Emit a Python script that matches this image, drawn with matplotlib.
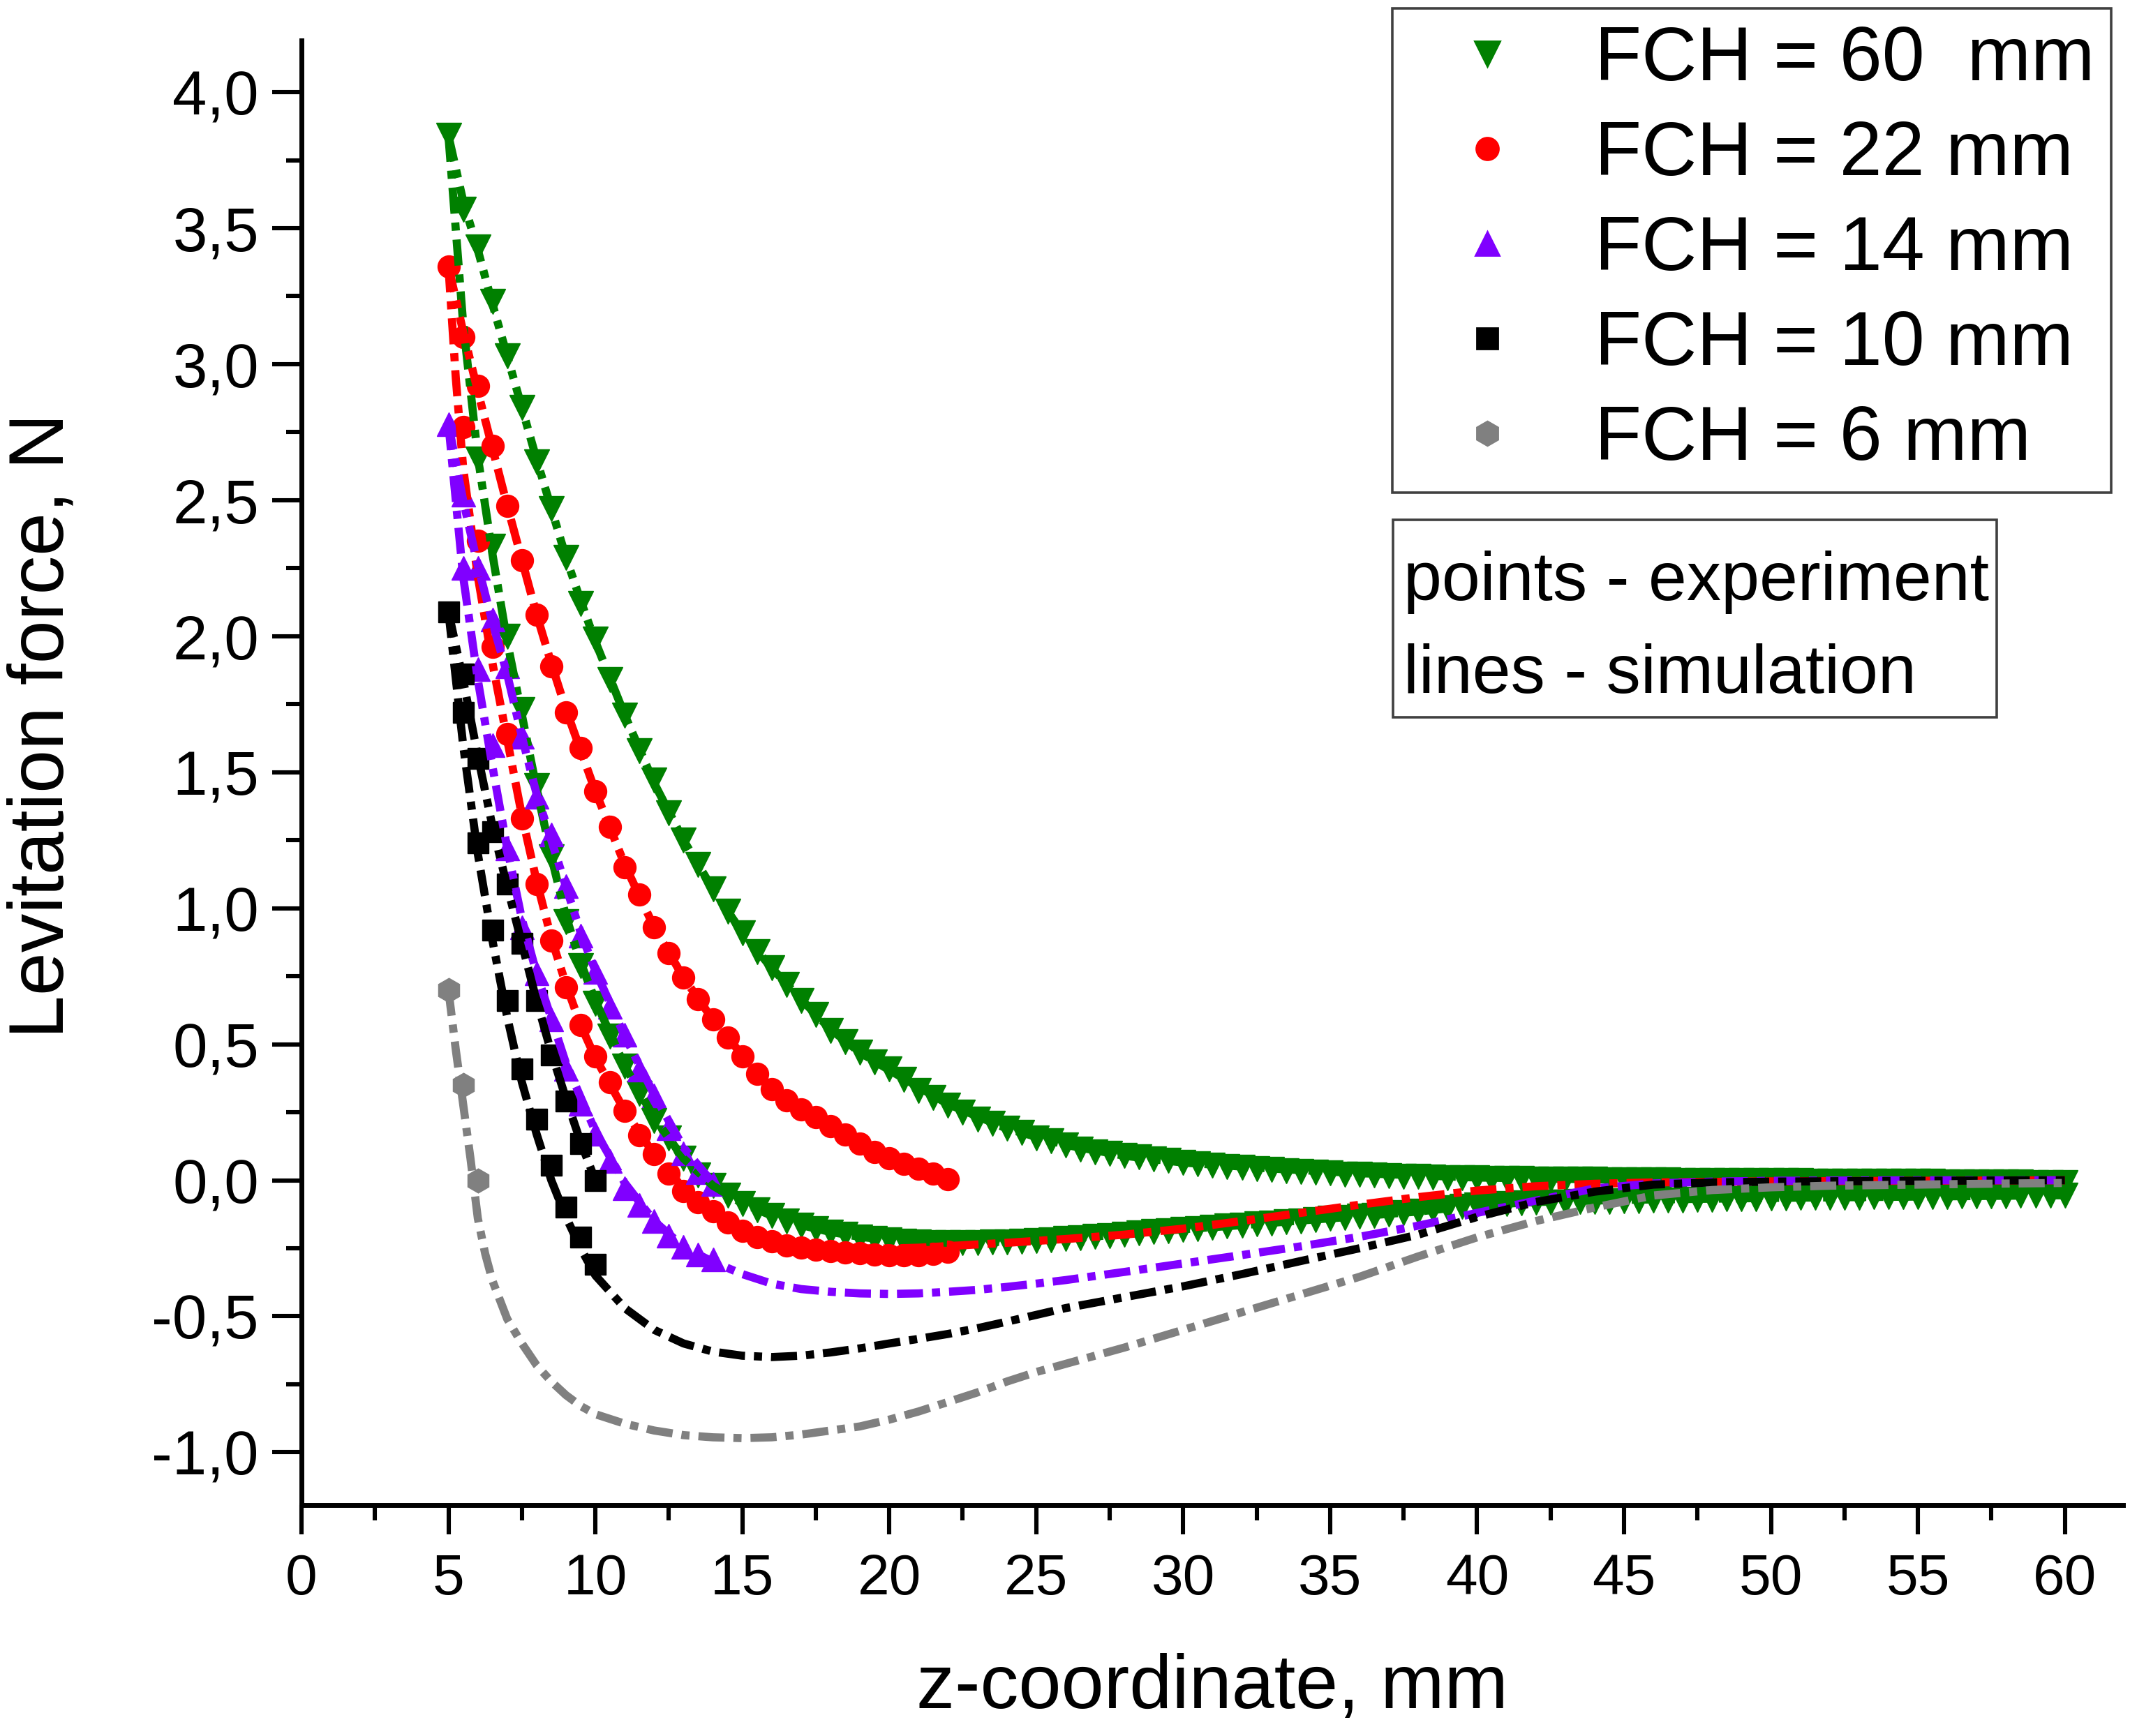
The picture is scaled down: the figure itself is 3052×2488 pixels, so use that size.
import numpy as np
import matplotlib
matplotlib.use("Agg")
import matplotlib.pyplot as plt
from matplotlib.lines import Line2D
from matplotlib.patches import Rectangle
from matplotlib.ticker import MultipleLocator, FixedLocator, FixedFormatter

plt.rcParams['font.family'] = ['Liberation Sans', 'DejaVu Sans']

# ---------------- data ----------------
# experimental points: z grid with 0.5 mm step
green_up_z = np.arange(5.0, 60.01, 0.5)
green_up_f = [3.84, 3.57, 3.43, 3.23, 3.03, 2.84, 2.64, 2.47, 2.29, 2.12,
              1.99, 1.84, 1.71, 1.58, 1.47, 1.35, 1.25, 1.16, 1.07, 0.99,
              0.91, 0.84, 0.78, 0.72, 0.66, 0.61, 0.55, 0.51, 0.47, 0.435,
              0.41, 0.37, 0.33, 0.305, 0.275, 0.25, 0.225, 0.21, 0.19, 0.175,
              0.155, 0.145, 0.13, 0.115, 0.105, 0.098, 0.09, 0.085, 0.078, 0.072,
              0.066, 0.061, 0.056, 0.051, 0.047, 0.043, 0.039, 0.035, 0.032, 0.029,
              0.026, 0.023, 0.021, 0.019, 0.017, 0.015, 0.013, 0.012, 0.010, 0.009,
              0.008, 0.007, 0.006, 0.006, 0.005, 0.004, 0.004, 0.003, 0.003, 0.002,
              0.002, 0.001, 0.001, 0.001, 0.000, 0.000, 0.000, -0.001, -0.001, -0.001,
              -0.002, -0.002, -0.002, -0.003, -0.003, -0.003, -0.004, -0.004, -0.004, -0.005,
              -0.005, -0.005, -0.006, -0.006, -0.006, -0.007, -0.007, -0.007, -0.008, -0.008,
              -0.008]
green_dn_z = np.arange(6.0, 60.01, 0.5)
green_dn_f = [2.65, 2.33, 2.0, 1.73, 1.45, 1.19, 0.95, 0.79, 0.65, 0.53,
              0.42, 0.32, 0.22, 0.155, 0.08, 0.02, -0.02, -0.056, -0.085, -0.11,
              -0.13, -0.15, -0.165, -0.178, -0.19, -0.2, -0.208, -0.214, -0.22, -0.224,
              -0.227, -0.229, -0.23, -0.23, -0.229, -0.228, -0.226, -0.224, -0.222, -0.219,
              -0.215, -0.211, -0.207, -0.203, -0.198, -0.193, -0.189, -0.185, -0.181, -0.177,
              -0.173, -0.169, -0.165, -0.161, -0.157, -0.153, -0.149, -0.145, -0.141, -0.137,
              -0.133, -0.129, -0.124, -0.119, -0.113, -0.107, -0.101, -0.096, -0.091, -0.088,
              -0.086, -0.084, -0.082, -0.081, -0.08, -0.079, -0.078, -0.077, -0.076, -0.075,
              -0.074, -0.073, -0.072, -0.071, -0.07, -0.069, -0.068, -0.067, -0.066, -0.065,
              -0.064, -0.063, -0.063, -0.062, -0.062, -0.061, -0.061, -0.060, -0.060, -0.059,
              -0.059, -0.058, -0.058, -0.057, -0.057, -0.056, -0.056, -0.055, -0.055]

red_up_z = np.arange(5.0, 22.01, 0.5)
red_up_f = [3.36, 3.10, 2.92, 2.70, 2.48, 2.28, 2.08, 1.89, 1.72, 1.59,
            1.43, 1.30, 1.15, 1.05, 0.93, 0.835, 0.745, 0.665, 0.59, 0.525,
            0.455, 0.39, 0.335, 0.295, 0.26, 0.232, 0.198, 0.168, 0.135, 0.105,
            0.08, 0.06, 0.042, 0.025, 0.005]
red_dn_z = np.arange(5.5, 22.01, 0.5)
red_dn_f = [2.77, 2.35, 1.96, 1.64, 1.33, 1.09, 0.88, 0.71, 0.57, 0.455,
            0.36, 0.255, 0.165, 0.095, 0.025, -0.04, -0.08, -0.115, -0.155, -0.185,
            -0.208, -0.225, -0.24, -0.248, -0.255, -0.26, -0.265, -0.268, -0.272, -0.275,
            -0.277, -0.275, -0.27, -0.262]

violet_up_z = np.arange(5.0, 14.01, 0.5)
violet_up_f = [2.78, 2.52, 2.25, 2.06, 1.89, 1.63, 1.41, 1.27, 1.08, 0.90,
               0.765, 0.637, 0.534, 0.406, 0.312, 0.192, 0.098, 0.029, -0.013]
violet_dn_z = np.arange(5.5, 14.01, 0.5)
violet_dn_f = [2.25, 1.88, 1.6, 1.22, 0.93, 0.76, 0.59, 0.41, 0.28, 0.17,
               0.07, -0.03, -0.09, -0.15, -0.205, -0.245, -0.272, -0.29]

black_up_z = np.arange(5.0, 10.01, 0.5)
black_up_f = [2.09, 1.86, 1.55, 1.28, 1.09, 0.87, 0.66, 0.46, 0.29, 0.135, 0.0]
black_dn_z = np.arange(5.5, 10.01, 0.5)
black_dn_f = [1.72, 1.24, 0.92, 0.66, 0.41, 0.225, 0.055, -0.10, -0.21, -0.31]

gray_z = [5.0, 5.5, 6.0]
gray_f = [0.70, 0.35, 0.0]

# simulation curves
sim_green_up_z = [5, 5.5, 6, 6.5, 7, 7.5, 8, 8.5, 9, 9.5, 10, 11, 12, 13, 14, 15, 16, 17, 18,
                  19, 20, 22, 24, 26, 28, 30, 33, 36, 40, 45, 50, 55, 60]
sim_green_up_f = [3.84, 3.60, 3.42, 3.22, 3.03, 2.84, 2.65, 2.47, 2.29, 2.13, 1.98, 1.71, 1.46,
                  1.25, 1.07, 0.91, 0.78, 0.665, 0.555, 0.47, 0.405, 0.28, 0.19, 0.13, 0.09,
                  0.065, 0.043, 0.026, 0.01, 0.002, -0.002, -0.005, -0.008]
sim_green_dn_z = [5, 5.5, 6, 6.5, 7, 7.5, 8, 8.5, 9, 9.5, 10, 11, 12, 13, 14, 15, 16, 17, 18,
                  19, 20, 22, 24, 26, 28, 30, 32, 34, 36, 38, 40, 42, 45, 50, 55, 60]
sim_green_dn_f = [3.84, 3.15, 2.66, 2.3, 1.98, 1.71, 1.44, 1.19, 0.97, 0.8, 0.66, 0.42, 0.23,
                  0.08, -0.02, -0.085, -0.13, -0.165, -0.19, -0.208, -0.22, -0.23, -0.226,
                  -0.215, -0.198, -0.18, -0.165, -0.148, -0.132, -0.115, -0.092, -0.08,
                  -0.072, -0.065, -0.06, -0.055]
sim_red_up_z = [5, 5.5, 6, 6.5, 7, 7.5, 8, 8.5, 9, 9.5, 10, 11, 12, 13, 14, 15, 16, 17, 18,
                19, 20, 21, 22]
sim_red_up_f = [3.36, 3.12, 2.9, 2.69, 2.48, 2.28, 2.08, 1.9, 1.73, 1.58, 1.43, 1.16, 0.93,
                0.745, 0.59, 0.46, 0.345, 0.262, 0.198, 0.135, 0.082, 0.042, 0.005]
sim_red_dn_z = [5, 5.25, 5.5, 6, 6.5, 7, 7.5, 8, 8.5, 9, 9.5, 10, 11, 12, 13, 14, 15, 16, 17,
                18, 19, 20, 21, 22, 24, 26, 28, 30, 32, 34, 36, 38, 40, 42, 44, 46, 50, 55, 60]
sim_red_dn_f = [3.36, 2.95, 2.62, 2.22, 1.9, 1.62, 1.34, 1.1, 0.89, 0.72, 0.57, 0.45, 0.255,
                0.095, -0.03, -0.115, -0.175, -0.212, -0.233, -0.245, -0.25, -0.251, -0.248,
                -0.242, -0.23, -0.216, -0.2, -0.178, -0.15, -0.12, -0.09, -0.062, -0.038,
                -0.022, -0.013, -0.008, -0.004, -0.002, 0.0]
sim_violet_up_z = [5, 5.5, 6, 6.5, 7, 7.5, 8, 8.5, 9, 9.5, 10, 11, 12, 13, 14]
sim_violet_up_f = [2.78, 2.5, 2.26, 2.05, 1.86, 1.63, 1.42, 1.25, 1.08, 0.91, 0.77, 0.53,
                   0.315, 0.12, -0.01]
sim_violet_dn_z = [5, 5.5, 6, 6.5, 7, 7.5, 8, 9, 10, 11, 12, 13, 14, 15, 16, 17, 18, 19, 20,
                   21, 22, 23, 24, 25, 26, 28, 30, 32, 34, 36, 38, 40, 42, 44, 46, 48, 50,
                   55, 60]
sim_violet_dn_f = [2.78, 2.22, 1.84, 1.52, 1.22, 0.96, 0.76, 0.43, 0.18, -0.01, -0.15, -0.245,
                   -0.3, -0.345, -0.38, -0.4, -0.41, -0.416, -0.418, -0.416, -0.41, -0.403,
                   -0.392, -0.38, -0.367, -0.337, -0.306, -0.275, -0.243, -0.208, -0.167,
                   -0.12, -0.075, -0.03, -0.012, -0.005, -0.002, 0.0, 0.0]
sim_black_up_z = [5, 5.5, 6, 6.5, 7, 7.5, 8, 8.5, 9, 9.5, 10]
sim_black_up_f = [2.09, 1.84, 1.56, 1.3, 1.08, 0.87, 0.66, 0.47, 0.3, 0.14, 0.0]
sim_black_dn_z = [5, 5.5, 6, 6.5, 7, 7.5, 8, 8.5, 9, 9.5, 10, 11, 12, 13, 14, 15, 16, 17, 18,
                  19, 20, 21, 22, 23, 24, 25, 26, 28, 30, 32, 34, 36, 38, 40, 42, 44, 46,
                  48, 50, 55, 60]
sim_black_dn_f = [2.09, 1.6, 1.2, 0.88, 0.6, 0.36, 0.17, 0.0, -0.135, -0.25, -0.35, -0.47,
                  -0.55, -0.6, -0.63, -0.645, -0.65, -0.645, -0.633, -0.618, -0.6, -0.583,
                  -0.565, -0.544, -0.52, -0.495, -0.47, -0.43, -0.39, -0.345, -0.297, -0.25,
                  -0.2, -0.135, -0.08, -0.042, -0.016, -0.008, -0.005, -0.002, 0.0]
sim_gray_z = [5.0, 5.25, 5.5, 5.75, 6.0, 6.25, 6.5, 7.0, 7.5, 8.0, 8.5, 9.0, 9.5, 10.0, 11,
              12, 13, 14, 15, 16, 17, 18, 19, 20, 21, 22, 23, 24, 25, 26, 27, 28, 30, 32,
              34, 36, 38, 40, 42, 44, 46, 48, 50, 52, 55, 58, 60]
sim_gray_f = [0.70, 0.48, 0.28, 0.08, -0.14, -0.27, -0.37, -0.51, -0.6, -0.68, -0.74, -0.79,
              -0.83, -0.86, -0.895, -0.92, -0.937, -0.945, -0.948, -0.945, -0.935, -0.92,
              -0.905, -0.88, -0.85, -0.815, -0.78, -0.74, -0.705, -0.675, -0.645, -0.615,
              -0.55, -0.485, -0.42, -0.355, -0.28, -0.21, -0.15, -0.1, -0.056, -0.036,
              -0.026, -0.02, -0.016, -0.012, -0.01]

legend_labels = ['FCH = 60  mm', 'FCH = 22 mm', 'FCH = 14 mm', 'FCH = 10 mm', 'FCH = 6 mm']
x_ticks = [0, 5, 10, 15, 20, 25, 30, 35, 40, 45, 50, 55, 60]
y_ticks = [-1.0, -0.5, 0.0, 0.5, 1.0, 1.5, 2.0, 2.5, 3.0, 3.5, 4.0]
y_tick_labels = ['-1,0', '-0,5', '0,0', '0,5', '1,0', '1,5', '2,0', '2,5', '3,0', '3,5', '4,0']

# ---------------- styles ----------------
GREEN, RED, VIOLET, BLACK, GRAY = '#008000', '#FF0000', '#8000FF', '#000000', '#808080'
LW = 4.2
DASHDOT = (0, (3.2, 1.1, 1.0, 1.1))

W, H, DPI = 3052, 2488, 200
fig = plt.figure(figsize=(W / DPI, H / DPI), dpi=DPI)
fig.patch.set_facecolor('white')
ax = fig.add_axes([432 / W, 1 - 2157 / H, (3042 - 432) / W, (2157 - 58) / H])

def pts(z, f, marker, color, ms):
    ax.plot(z, f, ls='none', marker=marker, color=color, ms=ms, mec=color, mew=0.5, zorder=2)

def sim(z, f, color):
    ax.plot(z, f, ls=DASHDOT, color=color, lw=LW, zorder=3, dash_capstyle='butt')

# experiments
pts(green_up_z, green_up_f, 'v', GREEN, 13)
pts(green_dn_z, green_dn_f, 'v', GREEN, 13)
pts(red_up_z, red_up_f, 'o', RED, 11.5)
pts(red_dn_z, red_dn_f, 'o', RED, 11.5)
pts(violet_up_z, violet_up_f, '^', VIOLET, 12.5)
pts(violet_dn_z, violet_dn_f, '^', VIOLET, 12.5)
pts(black_up_z, black_up_f, 's', BLACK, 10.5)
pts(black_dn_z, black_dn_f, 's', BLACK, 10.5)
pts(gray_z, gray_f, 'h', GRAY, 12.5)

# simulations
sim(sim_green_up_z, sim_green_up_f, GREEN)
sim(sim_green_dn_z, sim_green_dn_f, GREEN)
sim(sim_red_up_z, sim_red_up_f, RED)
sim(sim_red_dn_z, sim_red_dn_f, RED)
sim(sim_violet_up_z, sim_violet_up_f, VIOLET)
sim(sim_violet_dn_z, sim_violet_dn_f, VIOLET)
sim(sim_black_up_z, sim_black_up_f, BLACK)
sim(sim_black_dn_z, sim_black_dn_f, BLACK)
sim(sim_gray_z, sim_gray_f, GRAY)

# axes
ax.set_xlim(0, 61.98)
ax.set_ylim(-1.194, 4.19)
for s in ('top', 'right'):
    ax.spines[s].set_visible(False)
for s in ('left', 'bottom'):
    ax.spines[s].set_linewidth(2.5)
ax.xaxis.set_major_locator(FixedLocator(x_ticks))
ax.xaxis.set_major_formatter(FixedFormatter([str(v) for v in x_ticks]))
ax.xaxis.set_minor_locator(MultipleLocator(2.5))
ax.yaxis.set_major_locator(FixedLocator(y_ticks))
ax.yaxis.set_major_formatter(FixedFormatter(y_tick_labels))
ax.yaxis.set_minor_locator(MultipleLocator(0.25))
ax.tick_params(which='major', direction='out', length=15, width=2.2)
ax.tick_params(which='minor', direction='out', length=8, width=2.2)
ax.tick_params(axis='y', which='major', pad=7, labelsize=32)
ax.tick_params(axis='x', which='major', pad=10, labelsize=29.5)

ax.set_xlabel('z-coordinate, mm', fontsize=39.5)
ax.xaxis.set_label_coords(0.5, -0.101)
ax.set_ylabel('Levitation force, N', fontsize=40)
ax.yaxis.set_label_coords(-0.122, 0.532)

# legend
handles = [Line2D([], [], ls='none', marker='v', color=GREEN, ms=13),
           Line2D([], [], ls='none', marker='o', color=RED, ms=11.5),
           Line2D([], [], ls='none', marker='^', color=VIOLET, ms=12.5),
           Line2D([], [], ls='none', marker='s', color=BLACK, ms=10.5),
           Line2D([], [], ls='none', marker='h', color=GRAY, ms=12.5)]
leg = ax.legend(handles, legend_labels, loc='upper left',
                bbox_to_anchor=(1995 / W, 1 - 12 / H), bbox_transform=fig.transFigure,
                fontsize=39.5, frameon=True, fancybox=False, edgecolor='#404040',
                borderpad=0.22, labelspacing=0.31, handlelength=2.04, handletextpad=0.38,
                borderaxespad=0, framealpha=1)
leg.get_frame().set_linewidth(1.3)

# second note box
rect = Rectangle((1996 / W, 1 - 1028 / H), (2861 - 1996) / W, (1028 - 745) / H,
                 transform=fig.transFigure, facecolor='white', edgecolor='#404040',
                 lw=1.3, zorder=5)
fig.add_artist(rect)
fig.text(2011 / W, 1 - 860 / H, 'points - experiment', fontsize=35.5, va='baseline', zorder=6)
fig.text(2011 / W, 1 - 993 / H, 'lines - simulation', fontsize=35.5, va='baseline', zorder=6)

fig.savefig('out.png', dpi=DPI, facecolor='white')
